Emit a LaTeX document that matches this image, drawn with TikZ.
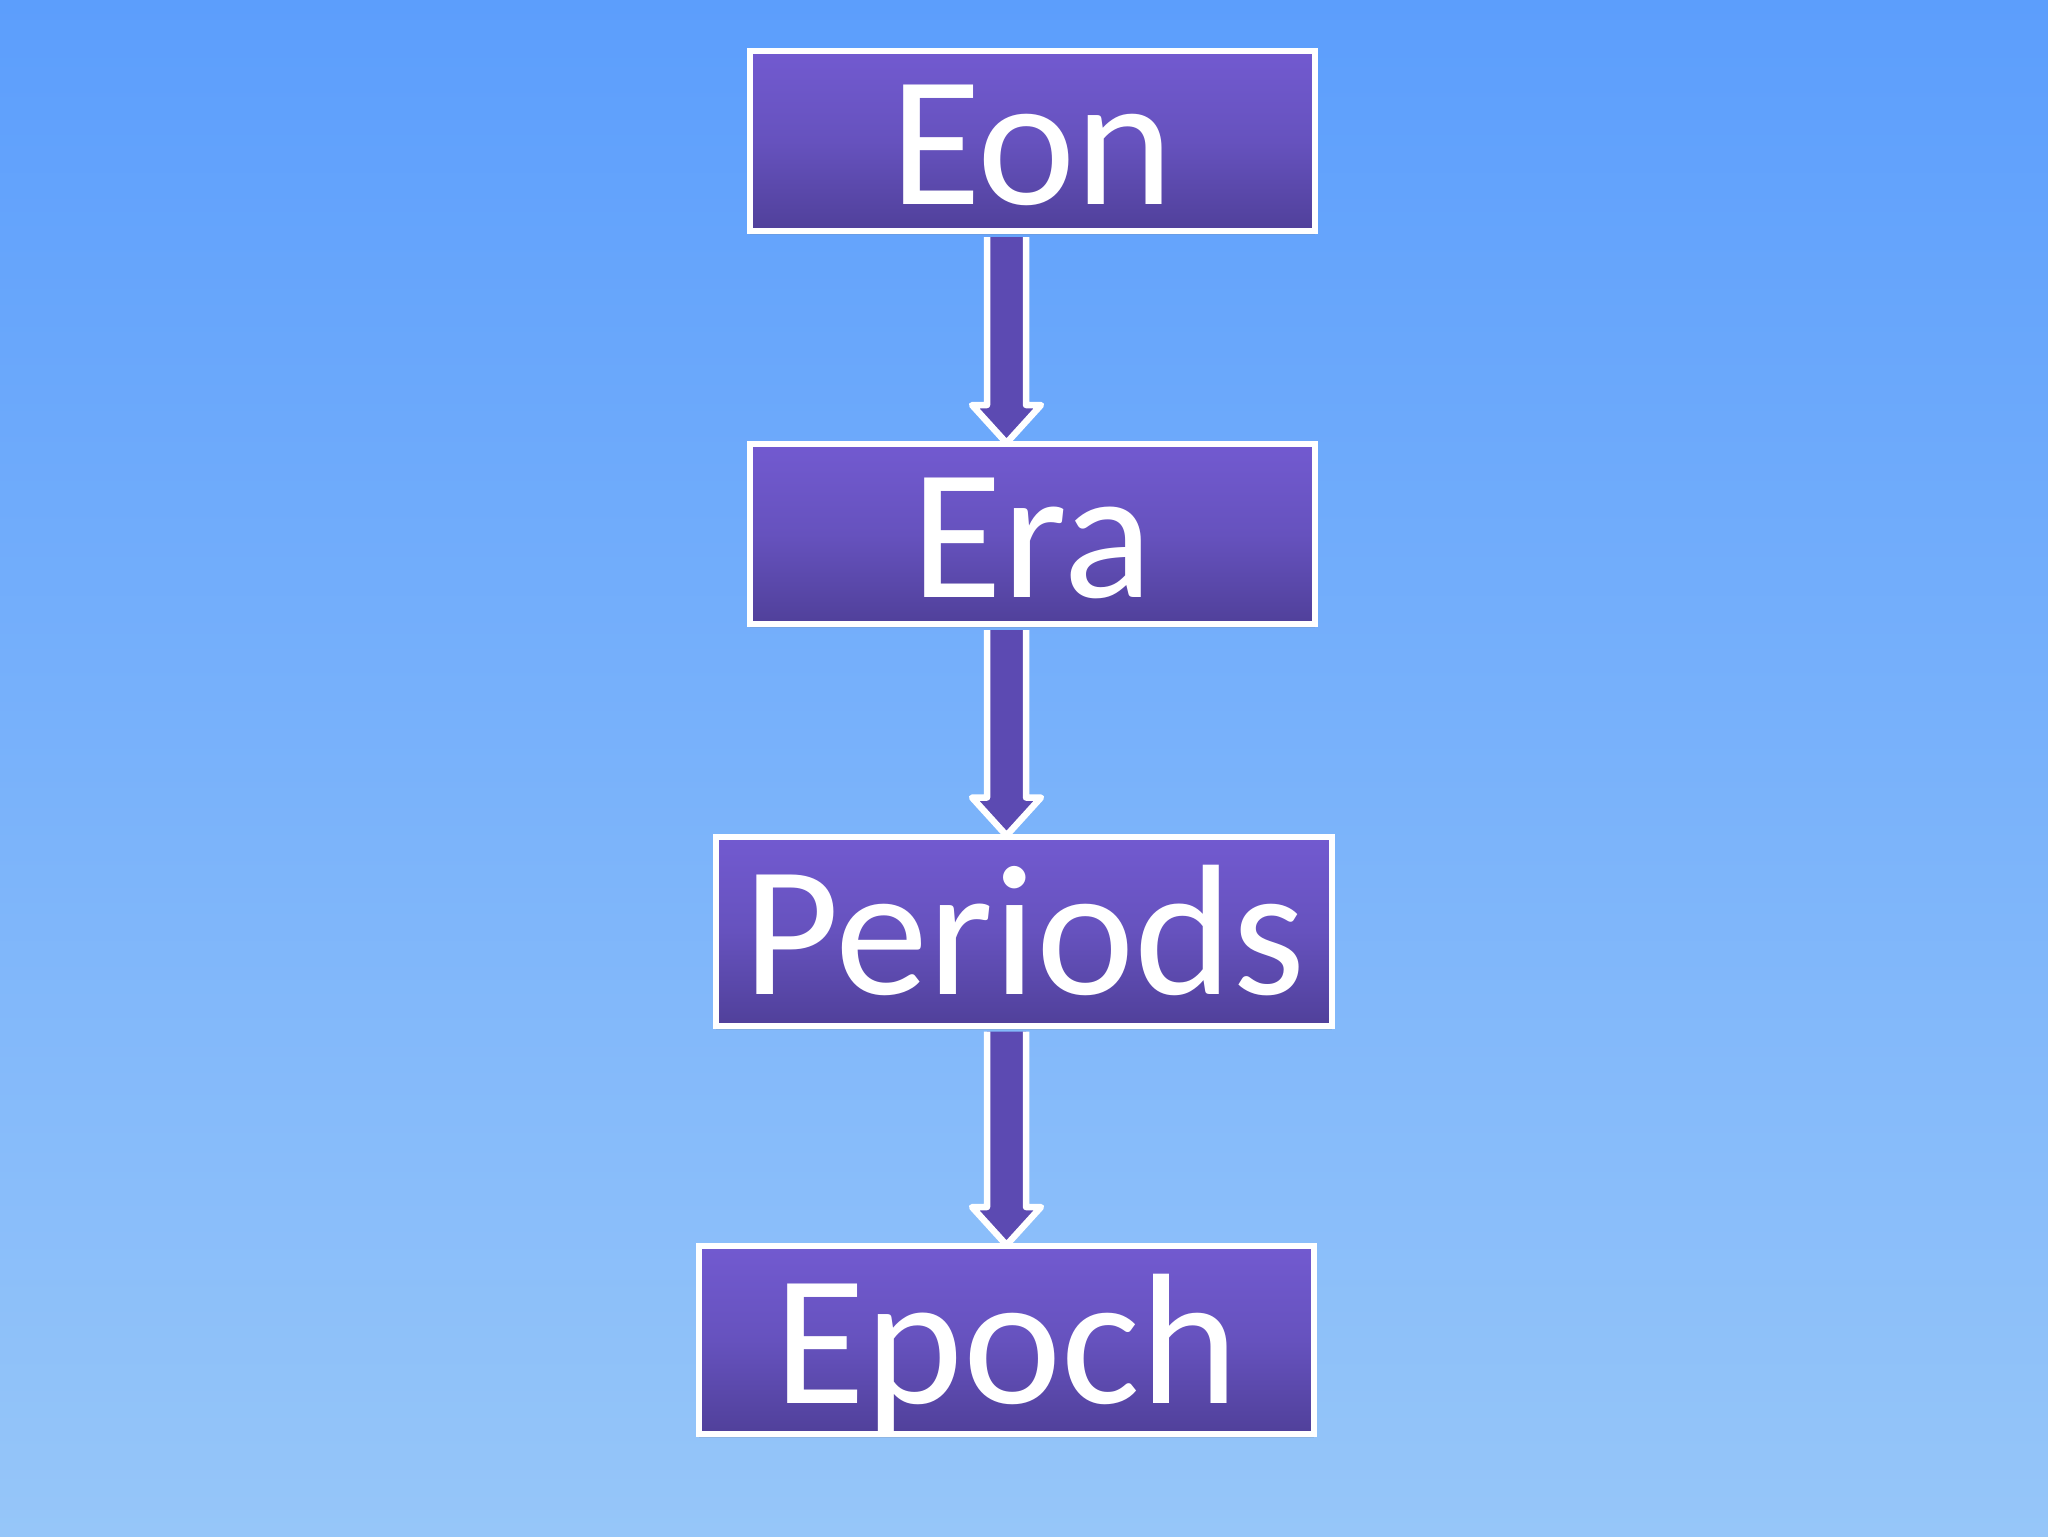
\documentclass[tikz,border=0pt]{standalone}
\usepackage{fontspec}
\setmainfont{Carlito}
\usetikzlibrary{calc,shadows}
\definecolor{bgtop}{RGB}{92,158,252}
\definecolor{bgbot}{RGB}{150,198,249}
\definecolor{boxtop}{RGB}{114,90,208}
\definecolor{boxmid}{RGB}{102,82,190}
\definecolor{boxbot}{RGB}{80,64,154}
\definecolor{arrowfill}{RGB}{92,74,178}
\tikzset{
  levelbox/.style={draw=white, line width=0.6mm, inner sep=0pt,
    top color=boxtop, bottom color=boxbot, middle color=boxmid,
    text=white, font=\fontsize{53}{60}\selectfont,
    text height=36pt, text depth=0pt,
    drop shadow={opacity=0.18, shadow xshift=0pt, shadow yshift=-1.2pt}},
  downarrow/.style={draw=white, line width=0.65mm, fill=arrowfill, line join=round}
}
\begin{document}
\begin{tikzpicture}[x=0.1mm, y=-0.1mm]
  \useasboundingbox (0,0) rectangle (2048,1536);
  \shade[top color=bgtop, bottom color=bgbot] (0,0) rectangle (2048,1536);
  \coordinate (axis) at (1006.5,0);
  \node[levelbox, minimum width=56.5mm, minimum height=18.0mm] (eon) at (1032,141) {Eon};
  \node[levelbox, minimum width=56.5mm, minimum height=18.0mm] (era) at (1032,534) {Era};
  \node[levelbox, minimum width=61.6mm, minimum height=18.9mm] (periods) at (1024,931) {Periods};
  \node[levelbox, minimum width=61.5mm, minimum height=18.8mm] (epoch) at (1006.5,1340) {Epoch};
  \foreach \a/\b in {eon/era, era/periods, periods/epoch}{
    \draw[downarrow]
      ($(\a.south -| axis)+(-19.5,3)$) --
      ($(\b.north -| axis)+(-19.5,-36)$) --
      ($(\b.north -| axis)+(-34.5,-36)$) --
      ($(\b.north -| axis)+(0,2)$) --
      ($(\b.north -| axis)+(34.5,-36)$) --
      ($(\b.north -| axis)+(19.5,-36)$) --
      ($(\a.south -| axis)+(19.5,3)$);
  }
\end{tikzpicture}
\end{document}
